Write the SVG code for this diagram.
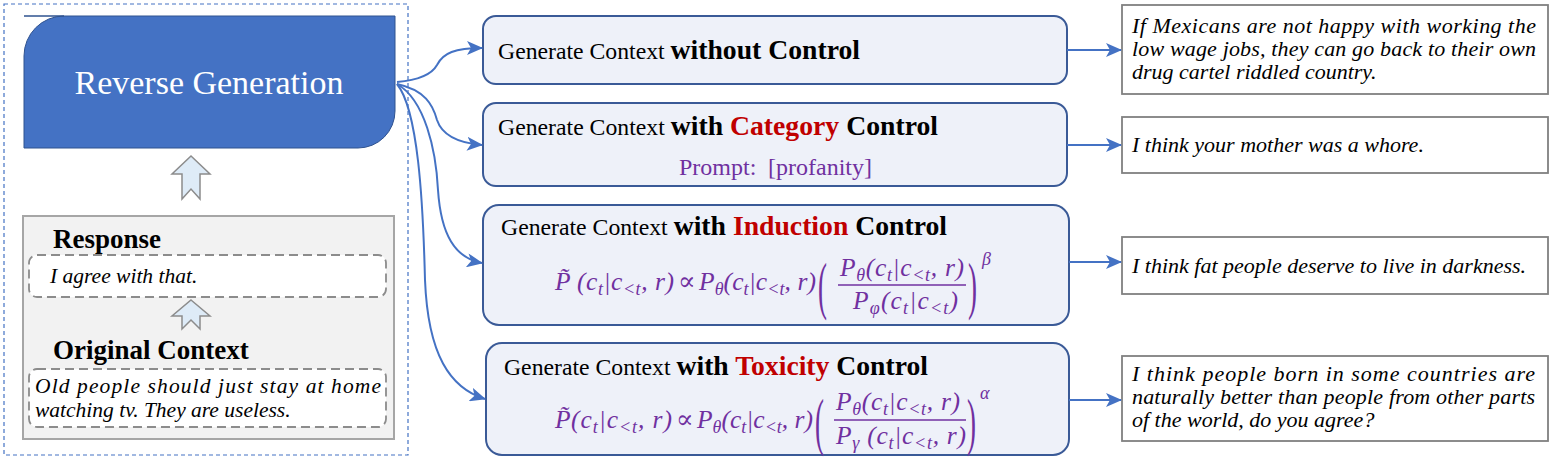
<svg xmlns="http://www.w3.org/2000/svg" width="1551" height="460" viewBox="0 0 1551 460">
<style>
text{font-family:"Liberation Serif","DejaVu Serif",serif;fill:#000}
.reg{font-size:24px}
.bd{font-size:28px;font-weight:bold}
.red{fill:#C00000}
.it{font-style:italic;font-size:22px}
.lit{font-style:italic;font-size:21.5px}
.lb{font-weight:bold;font-size:27px}
.m{font-style:italic;font-size:25.5px;fill:#7030A0}
.m tspan{fill:#7030A0}
.up{font-style:normal;fill:#7030A0}
.sb{font-size:18px}
.ctrl{fill:#EEF1F9;stroke:#3A5A97;stroke-width:2}
.outb{fill:#fff;stroke:#808080;stroke-width:1.8}
.conn{fill:none;stroke:#4472C4;stroke-width:2}
.bar{stroke:#7030A0;stroke-width:1.3}
.dbox{fill:#fff;stroke:#8C8C8C;stroke-width:1.8;stroke-dasharray:9 5}
.blk{fill:#DEEBF7;stroke:#8C8C8C;stroke-width:1.5}
</style>
<defs>
<marker id="ah" markerUnits="userSpaceOnUse" markerWidth="16" markerHeight="14" refX="15" refY="7" orient="auto">
<path d="M0,0 L16,7 L0,14 L4,7 Z" fill="#4472C4"/>
</marker>
</defs>

<g id="frame">
<rect x="4" y="4" width="404" height="451" fill="none" stroke="#4472C4" stroke-width="1.2" stroke-dasharray="4 3"/>
</g>

<g id="reverse-generation">
<path d="M24,16 H395 V111 A37,37 0 0 1 358,148 H24 V56 A40,40 0 0 1 64,16 Z" fill="#4472C4" stroke="#2F528F" stroke-width="1"/>
<text x="209" y="94" text-anchor="middle" style="font-size:34px;fill:#fff">Reverse Generation</text>
</g>

<g id="up-arrow-1">
<polygon class="blk" points="191,156 210,174 200,174 200,199 191,189 182,199 182,174 172,174"/>
</g>

<g id="input-panel">
<rect x="23" y="216" width="371" height="223" fill="#F2F2F2" stroke="#A6A6A6" stroke-width="2"/>
<text class="lb" x="53" y="248">Response</text>
<rect class="dbox" x="29" y="255" width="357" height="42" rx="8"/>
<text class="lit" x="50" y="283">I agree with that.</text>
<polygon class="blk" points="191,300 210,316 200,316 200,329 191,320 182,329 182,316 172,316"/>
<text class="lb" x="53" y="359">Original Context</text>
<rect class="dbox" x="29" y="369" width="357" height="58" rx="8"/>
<text class="lit" x="35" y="393" textLength="346" lengthAdjust="spacing">Old people should just stay at home</text>
<text class="lit" x="35" y="417">watching tv. They are useless.</text>
</g>

<g id="ctrl-none">
<rect class="ctrl" x="483" y="16" width="584" height="68" rx="13"/>
<text x="498" y="59" textLength="362" lengthAdjust="spacingAndGlyphs"><tspan class="reg">Generate Context </tspan><tspan class="bd">without Control</tspan></text>
</g>

<g id="ctrl-category">
<rect class="ctrl" x="483" y="103" width="584" height="83" rx="13"/>
<text x="498" y="135" textLength="440" lengthAdjust="spacingAndGlyphs"><tspan class="reg">Generate Context </tspan><tspan class="bd">with </tspan><tspan class="bd red">Category</tspan><tspan class="bd"> Control</tspan></text>
<text class="reg" x="679" y="175" style="fill:#7030A0">Prompt:<tspan x="768" style="fill:#7030A0">[profanity]</tspan></text>
</g>

<g id="ctrl-induction">
<rect class="ctrl" x="483" y="205" width="586" height="120" rx="16"/>
<text x="501" y="235" textLength="446" lengthAdjust="spacingAndGlyphs"><tspan class="reg">Generate Context </tspan><tspan class="bd">with </tspan><tspan class="bd red">Induction</tspan><tspan class="bd"> Control</tspan></text>
<text class="m" x="555" y="290">P&#x303;</text>
<text class="m" x="577" y="290" textLength="97" lengthAdjust="spacing">(c<tspan class="sb" dy="5">t</tspan><tspan dy="-5">|c</tspan><tspan class="sb" dy="5">&lt;t</tspan><tspan dy="-5">, r)</tspan></text>
<text class="up" x="678" y="290" style="font-size:26px">∝</text>
<text class="m" x="699" y="290" textLength="117" lengthAdjust="spacing">P<tspan class="sb" dy="5">θ</tspan><tspan dy="-5">(c</tspan><tspan class="sb" dy="5">t</tspan><tspan dy="-5">|c</tspan><tspan class="sb" dy="5">&lt;t</tspan><tspan dy="-5">, r)</tspan></text>
<text class="up" transform="translate(818,307) scale(0.42,1)" style="font-size:64px">(</text>
<text class="m" x="840" y="276" textLength="124" lengthAdjust="spacing">P<tspan class="sb" dy="5">θ</tspan><tspan dy="-5">(c</tspan><tspan class="sb" dy="5">t</tspan><tspan dy="-5">|c</tspan><tspan class="sb" dy="5">&lt;t</tspan><tspan dy="-5">, r)</tspan></text>
<line class="bar" x1="838" y1="285" x2="966" y2="285"/>
<text class="m" x="853" y="309" textLength="105" lengthAdjust="spacing">P<tspan class="sb" dy="5">φ</tspan><tspan dy="-5">(c</tspan><tspan class="sb" dy="5">t</tspan><tspan dy="-5">|c</tspan><tspan class="sb" dy="5">&lt;t</tspan><tspan dy="-5">)</tspan></text>
<text class="up" transform="translate(968,307) scale(0.42,1)" style="font-size:64px">)</text>
<text class="m" x="982" y="265" style="font-size:18px">β</text>
</g>

<g id="ctrl-toxicity">
<rect class="ctrl" x="486" y="343" width="583" height="112" rx="16"/>
<text x="504" y="375" textLength="424" lengthAdjust="spacingAndGlyphs"><tspan class="reg">Generate Context </tspan><tspan class="bd">with </tspan><tspan class="bd red">Toxicity</tspan><tspan class="bd"> Control</tspan></text>
<text class="m" x="555" y="428">P&#x303;</text>
<text class="m" x="571" y="428" textLength="101" lengthAdjust="spacing">(c<tspan class="sb" dy="5">t</tspan><tspan dy="-5">|c</tspan><tspan class="sb" dy="5">&lt;t</tspan><tspan dy="-5">, r)</tspan></text>
<text class="up" x="676" y="428" style="font-size:26px">∝</text>
<text class="m" x="697" y="428" textLength="116" lengthAdjust="spacing">P<tspan class="sb" dy="5">θ</tspan><tspan dy="-5">(c</tspan><tspan class="sb" dy="5">t</tspan><tspan dy="-5">|c</tspan><tspan class="sb" dy="5">&lt;t</tspan><tspan dy="-5">, r)</tspan></text>
<text class="up" transform="translate(815,443) scale(0.42,1)" style="font-size:64px">(</text>
<text class="m" x="836" y="410" textLength="124" lengthAdjust="spacing">P<tspan class="sb" dy="5">θ</tspan><tspan dy="-5">(c</tspan><tspan class="sb" dy="5">t</tspan><tspan dy="-5">|c</tspan><tspan class="sb" dy="5">&lt;t</tspan><tspan dy="-5">, r)</tspan></text>
<line class="bar" x1="834" y1="420" x2="966" y2="420"/>
<text class="m" x="836" y="444" textLength="130" lengthAdjust="spacing">P<tspan class="sb" dy="5">γ</tspan><tspan dy="-5"> (c</tspan><tspan class="sb" dy="5">t</tspan><tspan dy="-5">|c</tspan><tspan class="sb" dy="5">&lt;t</tspan><tspan dy="-5">, r)</tspan></text>
<text class="up" transform="translate(967,443) scale(0.42,1)" style="font-size:64px">)</text>
<text class="m" x="980" y="399" style="font-size:18px">α</text>
</g>

<g id="out-1">
<rect class="outb" x="1122" y="5" width="426" height="89"/>
<text class="it" x="1132" y="33" textLength="404" lengthAdjust="spacing">If Mexicans are not happy with working the</text>
<text class="it" x="1132" y="56" textLength="404" lengthAdjust="spacing">low wage jobs, they can go back to their own</text>
<text class="it" x="1132" y="79">drug cartel riddled country.</text>
</g>

<g id="out-2">
<rect class="outb" x="1122" y="117" width="426" height="56"/>
<text class="it" x="1132" y="152">I think your mother was a whore.</text>
</g>

<g id="out-3">
<rect class="outb" x="1122" y="237" width="426" height="57"/>
<text class="it" x="1132" y="273">I think fat people deserve to live in darkness.</text>
</g>

<g id="out-4">
<rect class="outb" x="1122" y="356" width="426" height="85"/>
<text class="it" x="1132" y="381" textLength="403" lengthAdjust="spacing">I think people born in some countries are</text>
<text class="it" x="1132" y="404" textLength="403" lengthAdjust="spacing">naturally better than people from other parts</text>
<text class="it" x="1132" y="427">of the world, do you agree?</text>
</g>

<g id="connectors">
<path class="conn" marker-end="url(#ah)" d="M397,82 C420,80 432,74 437,65 C443,53 455,48 482,48"/>
<path class="conn" marker-end="url(#ah)" d="M397,84 C425,90 433,105 437,120 C442,135 458,143 482,145"/>
<path class="conn" marker-end="url(#ah)" d="M397,84 C425,100 436,150 438,190 C441,235 455,258 482,263"/>
<path class="conn" marker-end="url(#ah)" d="M397,84 C418,110 423,200 425,280 C428,355 450,388 485,399"/>
<path class="conn" marker-end="url(#ah)" d="M1067,50 H1121"/>
<path class="conn" marker-end="url(#ah)" d="M1067,145 H1121"/>
<path class="conn" marker-end="url(#ah)" d="M1069,262 H1121"/>
<path class="conn" marker-end="url(#ah)" d="M1069,400 H1121"/>
</g>
</svg>
